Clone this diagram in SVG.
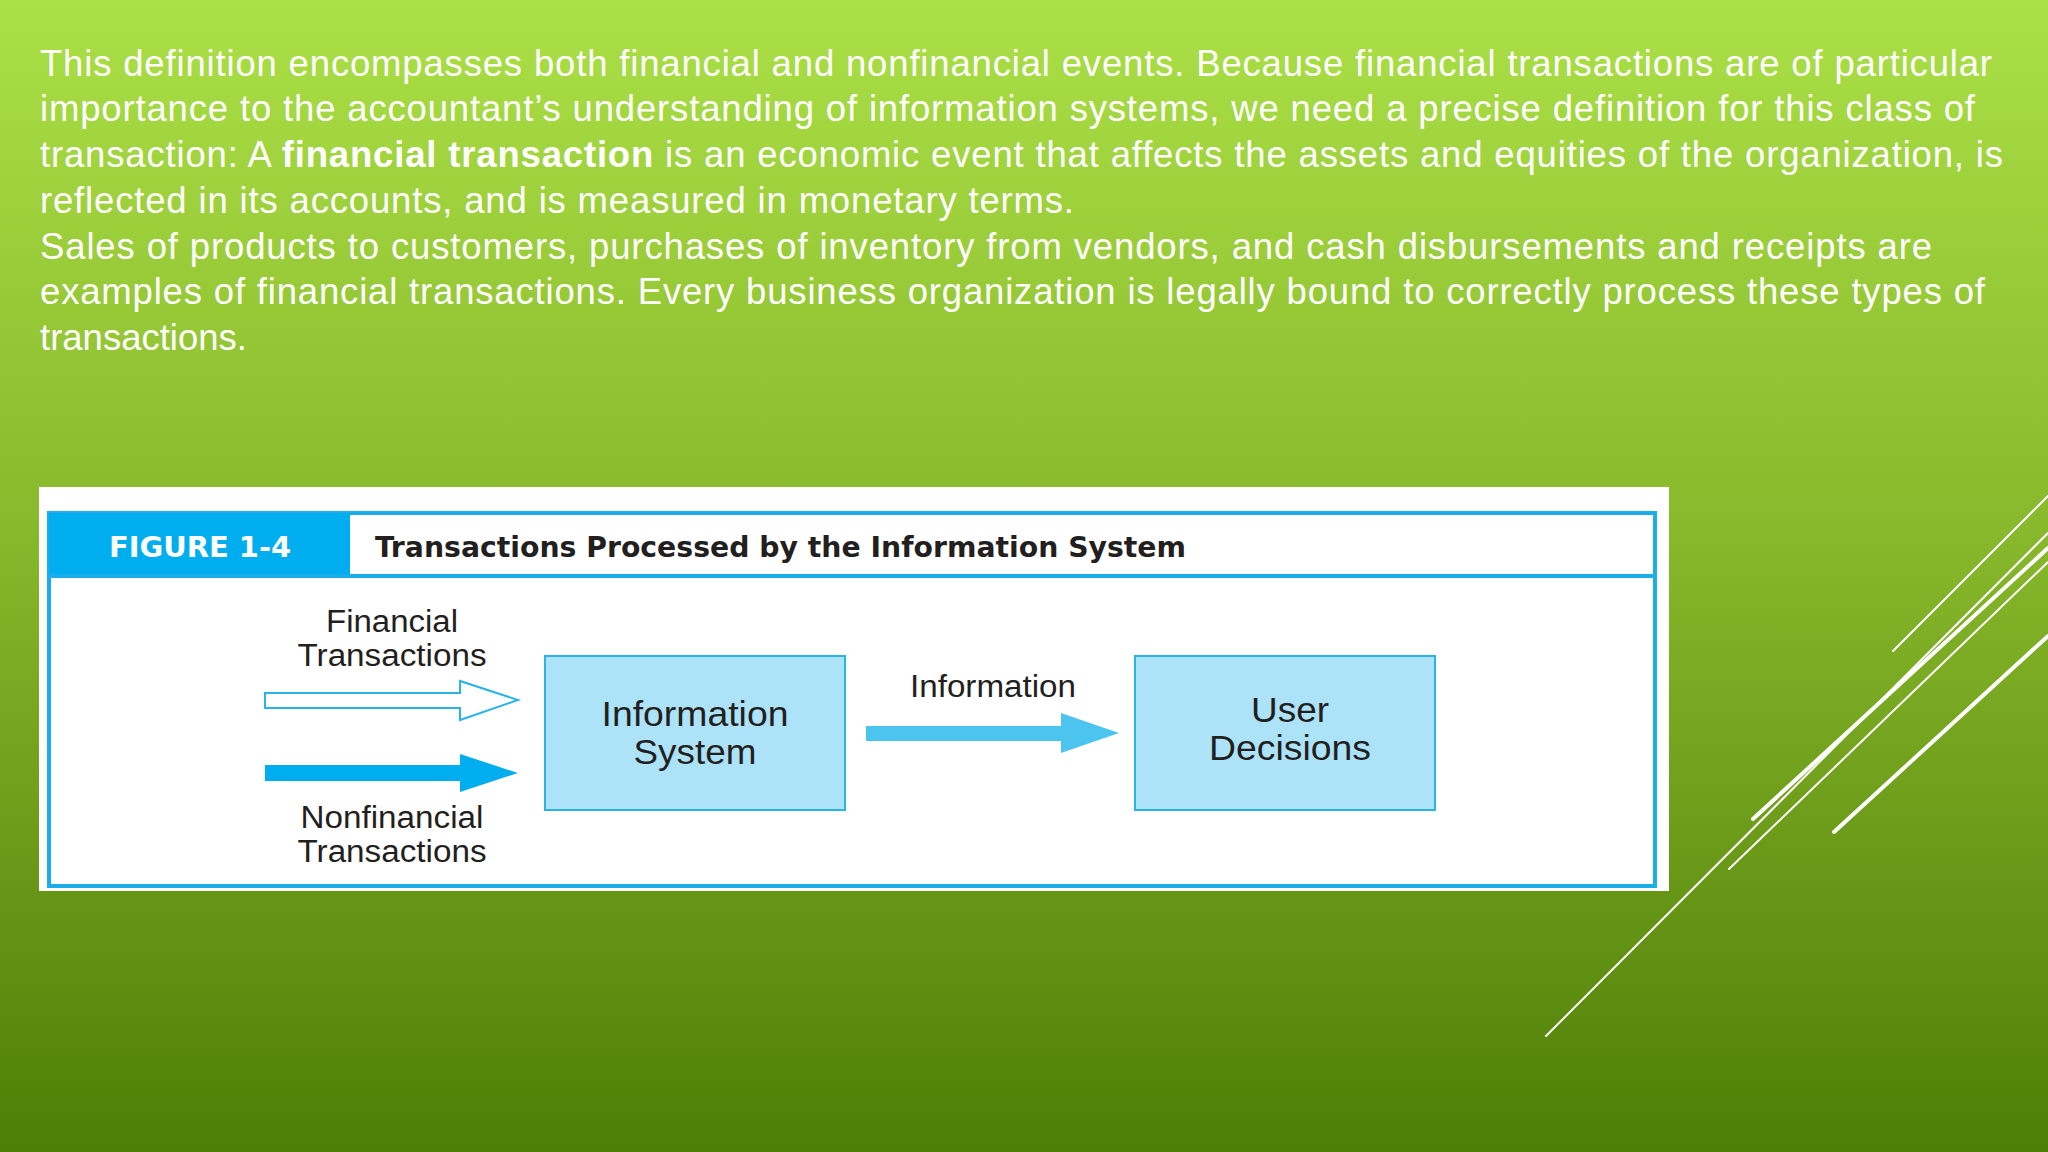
<svg xmlns="http://www.w3.org/2000/svg" width="2048" height="1152" viewBox="0 0 2048 1152">
<defs>
<linearGradient id="bg" x1="0" y1="0" x2="0" y2="1">
<stop offset="0" stop-color="#abe046"/>
<stop offset="0.45" stop-color="#89b92c"/>
<stop offset="1" stop-color="#4f7e07"/>
</linearGradient>
<style>
.p{font-family:"Liberation Sans",Arial,sans-serif;font-size:36.5px;fill:#fff}
.l{font-family:"Liberation Sans",Arial,sans-serif;fill:#231f20;text-anchor:middle}
.box{fill:#ade3f9;stroke:#29b3e6;stroke-width:2}
.deco{stroke:#fff;stroke-linecap:round;fill:none}
</style>
</defs>
<rect width="2048" height="1152" fill="url(#bg)"/>
<g id="paragraph">
<text class="p" x="40" y="76" textLength="1952" lengthAdjust="spacing">This definition encompasses both financial and nonfinancial events. Because financial transactions are of particular</text>
<text class="p" x="40" y="121" textLength="1935" lengthAdjust="spacing">importance to the accountant’s understanding of information systems, we need a precise definition for this class of</text>
<text class="p" x="40" y="167" textLength="1963" lengthAdjust="spacing">transaction: A <tspan font-weight="bold">financial transaction</tspan> is an economic event that affects the assets and equities of the organization, is</text>
<text class="p" x="40" y="213" textLength="1034" lengthAdjust="spacing">reflected in its accounts, and is measured in monetary terms.</text>
<text class="p" x="40" y="259" textLength="1892" lengthAdjust="spacing">Sales of products to customers, purchases of inventory from vendors, and cash disbursements and receipts are</text>
<text class="p" x="40" y="304" textLength="1945" lengthAdjust="spacing">examples of financial transactions. Every business organization is legally bound to correctly process these types of</text>
<text class="p" x="40" y="350">transactions.</text>
</g>
<g id="decor">
<line class="deco" x1="1893" y1="651" x2="2048" y2="496" stroke-width="2"/>
<line class="deco" x1="1753" y1="819" x2="2048" y2="548" stroke-width="4"/>
<line class="deco" x1="1729" y1="869" x2="2048" y2="562" stroke-width="2"/>
<line class="deco" x1="1546" y1="1036" x2="2048" y2="533" stroke-width="2"/>
<line class="deco" x1="1834" y1="832" x2="2048" y2="636" stroke-width="4"/>
</g>
<g id="figure">
<rect x="39" y="487" width="1630" height="404" fill="#fff"/>
<rect x="49" y="513" width="1606" height="373" fill="#fff" stroke="#1badea" stroke-width="4"/>
<rect x="49" y="513" width="301" height="63" fill="#00aeef"/>
<line x1="49" y1="576" x2="1655" y2="576" stroke="#1badea" stroke-width="4"/>
<text x="200" y="557" text-anchor="middle" font-family="'DejaVu Sans Condensed','DejaVu Sans',sans-serif" font-weight="bold" font-size="29" fill="#fff" textLength="182" lengthAdjust="spacingAndGlyphs">FIGURE 1-4</text>
<text x="375" y="557" font-family="'DejaVu Sans Condensed','DejaVu Sans',sans-serif" font-weight="bold" font-size="29" fill="#231f20" textLength="811" lengthAdjust="spacingAndGlyphs">Transactions Processed by the Information System</text>
</g>
<g id="info-system">
<rect class="box" x="545" y="656" width="300" height="154"/>
<text class="l" x="695" y="726" font-size="35" textLength="187" lengthAdjust="spacingAndGlyphs">Information</text>
<text class="l" x="695" y="764" font-size="35" textLength="123" lengthAdjust="spacingAndGlyphs">System</text>
</g>
<g id="user-decisions">
<rect class="box" x="1135" y="656" width="300" height="154"/>
<text class="l" x="1290" y="722" font-size="35" textLength="78" lengthAdjust="spacingAndGlyphs">User</text>
<text class="l" x="1290" y="760" font-size="35" textLength="162" lengthAdjust="spacingAndGlyphs">Decisions</text>
</g>
<g id="labels">
<text class="l" x="392" y="632" font-size="31" textLength="132" lengthAdjust="spacingAndGlyphs">Financial</text>
<text class="l" x="392" y="666" font-size="31" textLength="189" lengthAdjust="spacingAndGlyphs">Transactions</text>
<text class="l" x="392" y="828" font-size="31" textLength="183" lengthAdjust="spacingAndGlyphs">Nonfinancial</text>
<text class="l" x="392" y="862" font-size="31" textLength="189" lengthAdjust="spacingAndGlyphs">Transactions</text>
<text class="l" x="993" y="697" font-size="31" textLength="166" lengthAdjust="spacingAndGlyphs">Information</text>
</g>
<g id="connectors">
<polygon points="265,693 460,693 460,681 518,700 460,720 460,708 265,708" fill="#fff" stroke="#29b3e6" stroke-width="2"/>
<polygon points="265,765 460,765 460,754 518,773 460,792 460,781 265,781" fill="#00aeef"/>
<polygon points="866,726 1061,726 1061,713 1119,733 1061,753 1061,741 866,741" fill="#4cc4f0"/>
</g>
</svg>
